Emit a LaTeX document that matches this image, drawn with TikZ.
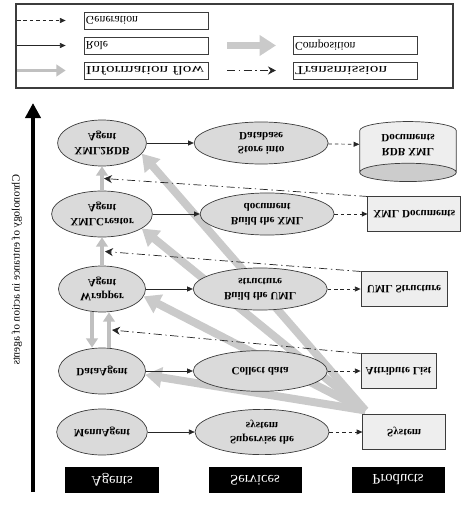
\documentclass[tikz,border=0pt]{standalone}
\usepackage{fontspec}
\setmainfont{Liberation Serif}
\newfontfamily\legendfont[FakeStretch=1.4]{Liberation Serif}
\usepackage{tikz}
\usepackage{xcolor}
\usetikzlibrary{positioning,arrows.meta,calc,shapes.geometric,backgrounds}
\definecolor{fgline}{RGB}{60,60,60}
\definecolor{ellfill}{RGB}{218,218,218}
\definecolor{prodfill}{RGB}{238,238,238}
\definecolor{flowgray}{RGB}{192,192,192}
\definecolor{compgray}{RGB}{202,202,202}
\tikzset{
  agent/.style={ellipse, draw=fgline, semithick, fill=ellfill, align=center, minimum width=2.61cm, minimum height=1.38cm, font=\bfseries\fontsize{9.5}{12}\selectfont},
  service/.style={ellipse, draw=fgline, semithick, fill=ellfill, align=center, minimum width=4.02cm, minimum height=1.22cm, font=\bfseries\fontsize{9.5}{12}\selectfont},
  product/.style={draw=fgline, semithick, fill=prodfill, align=center, minimum height=1.03cm, font=\bfseries\fontsize{9.5}{12}\selectfont},
  dbase/.style={cylinder, shape border rotate=90, aspect=0.3, draw=fgline, semithick, cylinder uses custom fill, cylinder body fill=prodfill, cylinder end fill=gray!40, align=center, minimum width=2.9cm, minimum height=1.8cm, font=\bfseries\fontsize{9.5}{12}\selectfont},
  header/.style={fill=black, text=white, minimum width=2.79cm, minimum height=0.78cm, font=\fontsize{12.5}{14}\selectfont},
  legbox/.style={draw=fgline, semithick, align=left, text width=3.6cm, inner xsep=0.06cm, minimum height=0.51cm, font=\fontsize{10}{12}\selectfont},
  widelegbox/.style={legbox, font=\legendfont\fontsize{10.5}{12}\selectfont},
  role/.style={-{Triangle[length=1.7mm, width=1.5mm]}, semithick, black!85},
  gener/.style={role, dash pattern=on 3pt off 2.5pt},
  transm/.style={-{Stealth[length=2.4mm, width=2.4mm]}, semithick, black!85, dash pattern=on 7pt off 3pt on 1.2pt off 3pt},
  info/.style={-{Triangle[length=8pt, width=10pt]}, line width=3.4pt, flowgray},
  compose/.style={-{Triangle[length=14pt, width=17pt]}, line width=6.8pt, compgray},
  chrono/.style={-{Triangle[length=13pt, width=13pt]}, line width=3.6pt}
}
\begin{document}
\begin{tikzpicture}[x=0.03cm, y=0.03cm, yscale=-1, transform shape]
    \useasboundingbox (0,0) rectangle (474,511);
    % legend
    \draw[fgline, line width=1pt] (16,4) rectangle (453,88);
    \node[legbox] (lgen) at (146,20.5) {Generation};
    \node[legbox] (lrole) at (146,45.5) {Role};
    \node[widelegbox] (linfo) at (146,70.5) {Information flow};
    \node[legbox] (lcomp) at (355,45.5) {Composition};
    \node[widelegbox] (ltrans) at (355,70.5) {Transmission};
    \coordinate (genS) at (17,20.5);
    \coordinate (roleS) at (17,45.5);
    \coordinate (infoS) at (17,70.5);
    \coordinate (compS) at (227,45.5);
    \coordinate (transS) at (227,70.5);
    \draw[gener, shorten >=0.54cm] (genS) -- (lgen);
    \draw[role, shorten >=0.54cm] (roleS) -- (lrole);
    \draw[info, shorten >=0.54cm] (infoS) -- (linfo);
    \draw[compose, shorten >=0.5cm] (compS) -- (lcomp);
    \draw[transm, shorten >=0.5cm] (transS) -- (ltrans);

    % agents, services, products
    \node[agent] (xmlrdb) at (102,143) {XML2RDB\\Agent};
    \node[agent] (xmlcre) at (102,214) {XMLCreator\\Agent};
    \node[agent] (wrap) at (102,289) {Wrapper\\Agent};
    \node[agent] (data) at (102,371) {DataAgent};
    \node[agent] (menu) at (102,432) {MenuAgent};
    \node[service, right=1.41cm of xmlrdb] (store) {Store into\\Database};
    \node[service, right=1.41cm of xmlcre] (bxml) {Build the XML\\document};
    \node[service, right=1.41cm of wrap] (buml) {Build the UML\\structure};
    \node[service, right=1.41cm of data] (collect) {Collect data};
    \node[service, right=1.41cm of menu] (superv) {Supervise the\\system};
    \node[dbase] (rdbdoc) at (408,145) {RDB XML\\Documents};
    \node[product, minimum width=2.79cm, right=0.99cm of bxml] (xmldoc) {XML Documents};
    \node[product, minimum width=2.58cm, right=0.99cm of buml] (umlst) {UML Structure};
    \node[product, minimum width=2.25cm, right=0.99cm of collect] (attr) {Attribute List};
    \node[product, minimum width=2.49cm, right=0.99cm of superv] (sys) {System};
    \node[header] (hagents) at (112,480) {Agents};
    \node[header] (hserv) at (255,480) {Services};
    \node[header] (hprod) at (398,480) {Products};

    \coordinate (chronS) at (33,492);
    \coordinate (chronE) at (33,103);
    \draw[chrono] (chronS) -- (chronE);
    \node[rotate=90, font=\fontsize{9.5}{11}\selectfont] (chronlbl) at (17,270) {Chronology of entrance in action of agents};

    \draw[role] (xmlrdb) -- (store);
    \draw[role] (xmlcre) -- (bxml);
    \draw[role] (wrap) -- (buml);
    \draw[role] (data) -- (collect);
    \draw[role] (menu) -- (superv);
    \draw[gener] (store) -- (rdbdoc);
    \draw[gener] (bxml) -- (xmldoc);
    \draw[gener] (buml) -- (umlst);
    \draw[gener] (collect) -- (attr);
    \draw[gener] (superv) -- (sys);

    \draw[info] (wrap) -- (xmlcre);
    \draw[info] (xmlcre) -- (xmlrdb);
    \draw[info] ([xshift=-0.3cm]wrap.north) -- ([xshift=-0.3cm]data.south);
    \draw[info] ([xshift=0.21cm]data.south) -- ([xshift=0.21cm]wrap.north);

    \coordinate (t1) at ($(xmlrdb)!0.5!(xmlcre)+(2,0)$);
    \coordinate (t2) at ($(xmlcre)!0.5!(wrap)+(3,0)$);
    \coordinate (t3) at ($(wrap)!0.5!(data)+(10,0)$);
    \draw[transm] (xmldoc.south west) -- (t1);
    \draw[transm] (umlst.south west) -- (t2);
    \draw[transm] (attr.south west) -- (t3);

    \begin{scope}[on background layer]
      \coordinate (fan) at ($(sys.south west)+(3,-4)$);
      \draw[compose] (fan) -- (xmlrdb.15);
      \draw[compose] (fan) -- (xmlcre.20);
      \draw[compose] (fan) -- (wrap.10);
      \draw[compose] (fan) -- (data.5);
    \end{scope}
  \end{tikzpicture}
\end{document}
